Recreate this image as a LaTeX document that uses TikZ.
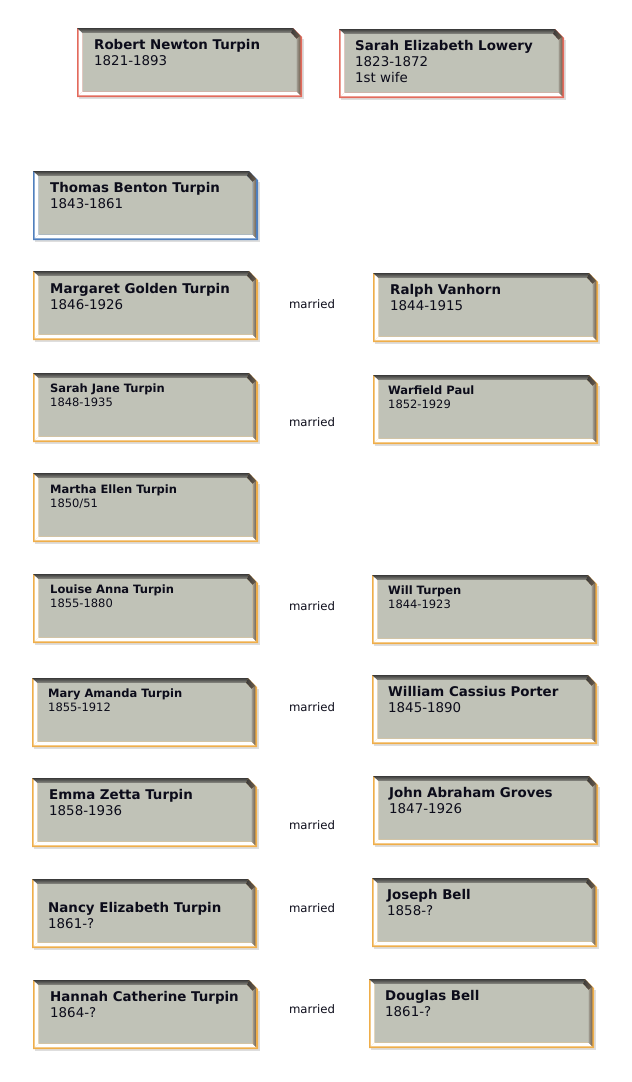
\documentclass[tikz,border=0pt]{standalone}
\usepackage{fontspec}
\setmainfont{DejaVu Sans}
\definecolor{boxgray}{HTML}{C0C2B7}
\definecolor{txt}{HTML}{0C0C1A}
\definecolor{bdorange}{HTML}{EFAE4A}
\definecolor{bdred}{HTML}{E36A5C}
\definecolor{bdblue}{HTML}{4F7FBE}
\definecolor{bevdark}{HTML}{3A3A3A}
\definecolor{bevmid}{HTML}{8E8E86}
\definecolor{bevbrown}{HTML}{6E5E4C}
\definecolor{bevlight}{HTML}{A29E94}
\tikzset{
  frame/.style={minimum width=225pt, minimum height=69pt, inner sep=0pt, outer sep=0pt, anchor=north west},
  namebig/.style={anchor=base west, inner sep=0pt, text=txt, font=\fontsize{13.4}{16}\selectfont\bfseries},
  datebig/.style={anchor=base west, inner sep=0pt, text=txt, font=\fontsize{13.4}{16}\selectfont},
  namesmall/.style={anchor=base west, inner sep=0pt, text=txt, font=\fontsize{11.5}{14}\selectfont\bfseries},
  datesmall/.style={anchor=base west, inner sep=0pt, text=txt, font=\fontsize{11.5}{14}\selectfont},
  marr/.style={inner sep=0pt, text=txt, font=\fontsize{11.7}{14}\selectfont},
}
% bevelled box: id, x, y, border colour
\newcommand\pbox[4]{%
  \node[frame] (#1) at (#2,-#3) {};
  \pgfmathsetmacro\L{#2}\pgfmathsetmacro\R{#2+225}%
  \pgfmathsetmacro\T{-#3}\pgfmathsetmacro\B{-#3-69}%
  \fill[black!13] (\L+2,\B) rectangle (\R+2,\B-2);
  \fill[black!13] (\R,\T-11) rectangle (\R+2,\B-2);
  \fill[#4] (\L,\T) -- (\R-9,\T) -- (\R,\T-9) -- (\R,\B) -- (\L,\B) -- cycle;
  \fill[white] (\L+1.6,\B+1.6) -- (\L+1.6,\T-1) -- (\L+5.5,\T-5) -- (\L+5.5,\B+5.5) -- cycle;
  \fill[white] (\R-1.6,\B+1.6) -- (\L+1.6,\B+1.6) -- (\L+5.5,\B+5.5) -- (\R-5.5,\B+5.5) -- cycle;
  \shade[top color=bevdark, bottom color=bevmid] (\L,\T) -- (\R-9,\T) -- (\R-11,\T-5) -- (\L+5.5,\T-5) -- cycle;
  \shade[left color=bevdark, right color=bevbrown] (\R-9,\T) -- (\R-1.6,\T-8) -- (\R-5.5,\T-11) -- (\R-11,\T-5) -- cycle;
  \shade[left color=bevlight, right color=bevbrown] (\R-1.6,\T-8) -- (\R-1.6,\B+1.6) -- (\R-5.5,\B+5.5) -- (\R-5.5,\T-11) -- cycle;
  \fill[boxgray] (\L+5.5,\T-5) -- (\R-11,\T-5) -- (\R-5.5,\T-11) -- (\R-5.5,\B+5.5) -- (\L+5.5,\B+5.5) -- cycle;
}
% id, x, y, colour, dx, dy, name, date
\newcommand\bigp[8]{%
  \pbox{#1}{#2}{#3}{#4}
  \node[namebig] (#1n) at (#2+#5,-#3-#6) {#7};
  \node[datebig] (#1d) at (#2+#5,-#3-#6-16) {#8};
}
\newcommand\smallp[8]{%
  \pbox{#1}{#2}{#3}{#4}
  \node[namesmall] (#1n) at (#2+#5,-#3-#6) {#7};
  \node[datesmall] (#1d) at (#2+#5,-#3-#6-14) {#8};
}
\begin{document}
\begin{tikzpicture}[x=1pt,y=1pt]
\useasboundingbox (0,0) rectangle (632,-1082);
\fill[white] (0,0) rectangle (632,-1082);

\bigp{robert}{77}{28}{bdred}{17}{21.5}{Robert Newton Turpin}{1821-1893}
\bigp{sarahel}{339}{29}{bdred}{16}{21.5}{Sarah Elizabeth Lowery}{1823-1872}
\node[datebig] (sarahelw) at (339+16,-29-21.5-32) {1st wife};

\bigp{thomas}{33}{171}{bdblue}{17}{21.5}{Thomas Benton Turpin}{1843-1861}

\bigp{margaret}{33}{271}{bdorange}{17}{22}{Margaret Golden Turpin}{1846-1926}
\bigp{ralph}{373}{273}{bdorange}{17}{21.5}{Ralph Vanhorn}{1844-1915}
\node[marr] (m1) at (312,-304) {married};

\smallp{sarahj}{33}{373}{bdorange}{17}{19.5}{Sarah Jane Turpin}{1848-1935}
\smallp{warfield}{373}{375}{bdorange}{15}{19}{Warfield Paul}{1852-1929}
\node[marr] (m2) at (312,-422) {married};

\smallp{martha}{33}{473}{bdorange}{17}{20}{Martha Ellen Turpin}{1850/51}

\smallp{louise}{33}{574}{bdorange}{17}{19.5}{Louise Anna Turpin}{1855-1880}
\smallp{will}{372}{575}{bdorange}{16}{19.5}{Will Turpen}{1844-1923}
\node[marr] (m3) at (312,-606) {married};

\smallp{mary}{32}{678}{bdorange}{16}{19.5}{Mary Amanda Turpin}{1855-1912}
\bigp{william}{372}{675}{bdorange}{16}{21.5}{William Cassius Porter}{1845-1890}
\node[marr] (m4) at (312,-707) {married};

\bigp{emma}{32}{778}{bdorange}{17}{21.5}{Emma Zetta Turpin}{1858-1936}
\bigp{john}{373}{776}{bdorange}{16}{21.5}{John Abraham Groves}{1847-1926}
\node[marr] (m5) at (312,-825) {married};

\bigp{nancy}{32}{879}{bdorange}{16}{33.5}{Nancy Elizabeth Turpin}{1861-?}
\bigp{joseph}{372}{878}{bdorange}{15}{21.5}{Joseph Bell}{1858-?}
\node[marr] (m6) at (312,-908) {married};

\bigp{hannah}{33}{980}{bdorange}{17}{21.5}{Hannah Catherine Turpin}{1864-?}
\bigp{douglas}{369}{979}{bdorange}{16}{21.5}{Douglas Bell}{1861-?}
\node[marr] (m7) at (312,-1009) {married};
\end{tikzpicture}
\end{document}
